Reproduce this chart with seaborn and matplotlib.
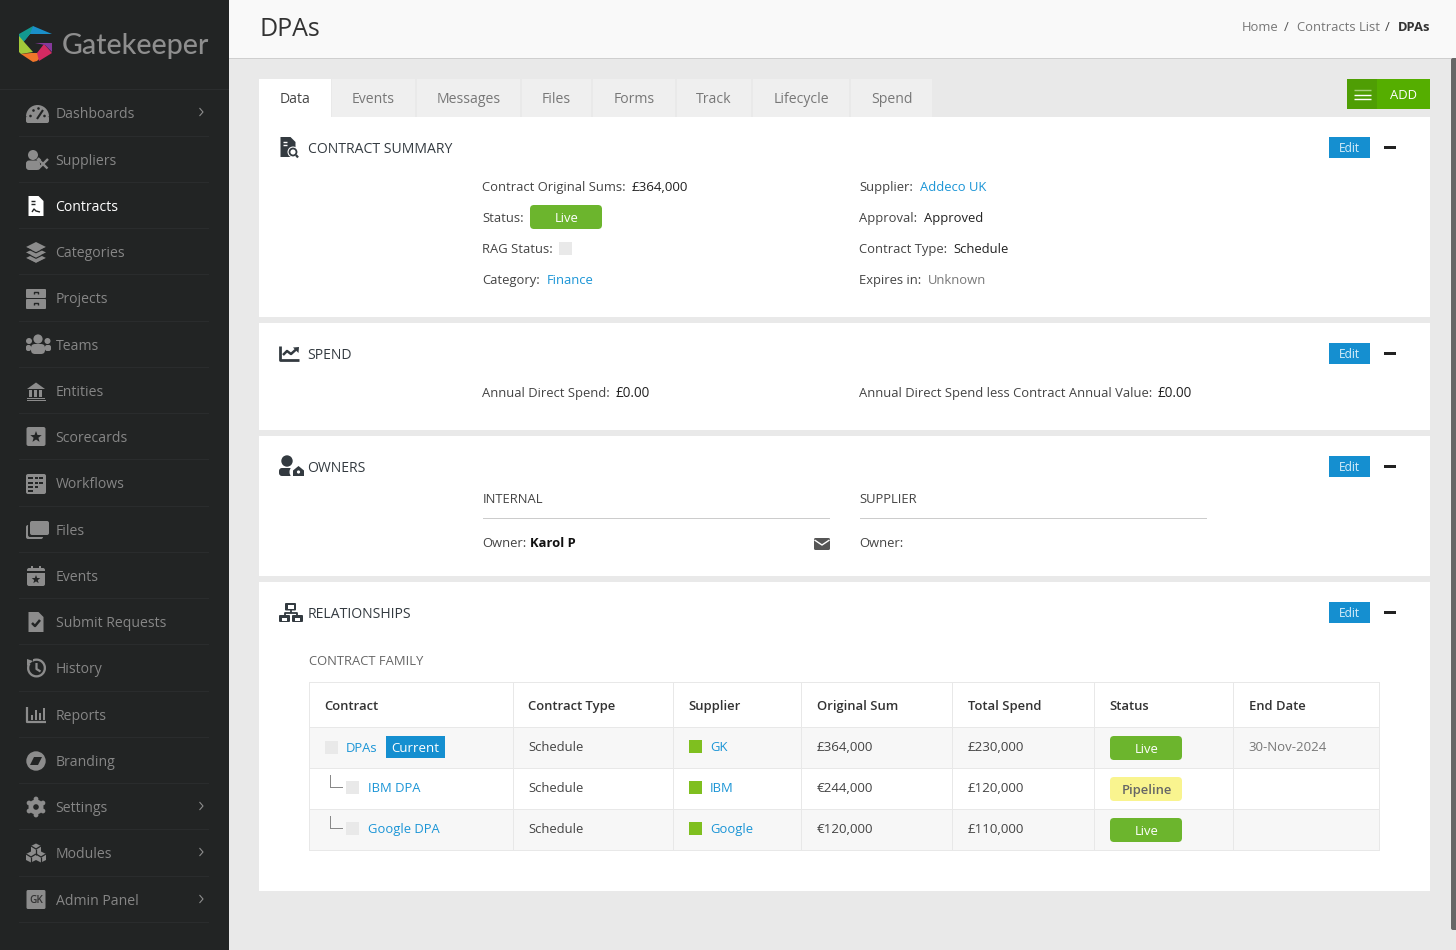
import numpy as np
import seaborn as sns
import matplotlib
matplotlib.use("Agg")
import matplotlib.pyplot as plt
from matplotlib.patches import Rectangle, Circle, Polygon, FancyBboxPatch, Wedge

W, H = 1456, 950

# menu and tabs
menu_items = ["Dashboards", "Suppliers", "Contracts", "Categories", "Projects", "Teams", "Entities",
              "Scorecards", "Workflows", "Files", "Events", "Submit Requests", "History", "Reports",
              "Branding", "Settings", "Modules", "Admin Panel"]
menu_arrows = ["Dashboards", "Settings", "Modules", "Admin Panel"]
tab_names = ["Data", "Events", "Messages", "Files", "Forms", "Track", "Lifecycle", "Spend"]
tab_edges = [(259, 331), (332, 415), (417, 520), (522, 591), (593, 675), (677, 751), (753, 849), (851, 932)]

# table
table_cols = ["Contract", "Contract Type", "Supplier", "Original Sum", "Total Spend", "Status", "End Date"]
contract_names = ["DPAs", "IBM DPA", "Google DPA"]
contract_types = ["Schedule", "Schedule", "Schedule"]
suppliers = ["GK", "IBM", "Google"]
original_sums = ["£364,000", "€244,000", "€120,000"]
total_spends = ["£230,000", "£120,000", "£110,000"]
statuses = ["Live", "Pipeline", "Live"]
end_dates = ["30-Nov-2024", "", ""]
row_stripes = [[1], [0], [1]]

DARK = "#222424"
GREY = "#8c8c8c"
BLUE = "#158fd0"
LINK = "#1b95d6"
TXT = "#444444"
INK = "#333a40"
GREEN = "#6cb52d"
PX = 72 / 100  # px to pt at dpi 100

sns.set_theme(style="white")
plt.rcParams["font.family"] = ["Open Sans", "DejaVu Sans"]

fig = plt.figure(figsize=(W / 100, H / 100), dpi=100, facecolor="#e9e9e9")


def pixel_axes(z):
    a = fig.add_axes([0, 0, 1, 1], zorder=z)
    a.set_xlim(0, W)
    a.set_ylim(H, 0)
    a.axis("off")
    return a


bg = pixel_axes(0)
ax = pixel_axes(2)


def box(x0, y0, x1, y1, c, a=None, z=1):
    (a or ax).add_patch(Rectangle((x0, y0), x1 - x0, y1 - y0, fc=c, ec="none", zorder=z))


def rbox(x0, y0, x1, y1, c, r=3, a=None, z=1):
    (a or ax).add_patch(FancyBboxPatch((x0 + r, y0 + r), x1 - x0 - 2 * r, y1 - y0 - 2 * r,
                                       boxstyle=f"round,pad={r},rounding_size={r}", fc=c, ec="none", zorder=z))


def txt(x, y, s, px=13, c=TXT, w="normal", ha="left", fam=None):
    # y is the baseline
    kw = {"family": fam} if fam else {}
    ax.text(x, y, s, fontsize=px * PX, color=c, fontweight=w, ha=ha, va="baseline", zorder=5, **kw)


def poly(pts, c, z=3):
    ax.add_patch(Polygon(pts, closed=True, fc=c, ec="none", zorder=z))


def circ(x, y, r, c, z=3):
    ax.add_patch(Circle((x, y), r, fc=c, ec="none", zorder=z))


def line(xs, ys, c, lw=1.0, z=3):
    ax.plot(xs, ys, color=c, lw=lw, zorder=z, solid_capstyle="butt")


# page frame
box(0, 0, 229, H, DARK, bg)
box(229, 0, W, 58, "#f9f9f9", bg)
box(229, 58, W, 59.2, "#cfcfcf", bg)
rbox(1451, 58, 1458, 930, "#666666", r=2, a=bg)

# logo
poly([(33, 26), (52, 34), (30, 34), (22, 44)], "#1a8fc9")
poly([(33, 26), (19, 34), (19, 47), (30, 34)], "#12998f")
poly([(19, 36), (19, 52), (21, 54), (33, 52), (25, 43)], "#a3c93a")
poly([(21, 54), (33, 62), (37, 61), (45, 53), (31, 53)], "#f0762a")
poly([(39, 61), (52, 53), (44, 44), (37, 53)], "#d42a62")
poly([(35, 43), (52, 43), (52, 52), (45, 45)], "#86399b")
txt(61.5, 54, "Gatekeeper", 28.6, "#8e8e8e", "medium", fam="Lato")
box(0, 89, 229, 90, "#2b2d2e", bg)

# sidebar rows
menu_y = [113, 160, 206, 252, 298, 345, 391, 437, 483, 530, 576, 622, 668, 715, 761, 807, 853, 900]
sep_y = [136, 182, 228, 274, 321, 367, 413, 459, 506, 552, 598, 644, 691, 737, 783, 829, 876, 922]
for name, y, sy in zip(menu_items, menu_y, sep_y):
    txt(55.6, y + 5, name, 14, "#ffffff" if name == "Contracts" else "#868686")
    box(19, sy, 209, sy + 1, "#2a2c2d", bg)
    if name in menu_arrows:
        line([199.5, 203, 199.5], [y - 5, y - 1, y + 3], GREY, 0.8)


def doc(x, y, c, w=15, h=20, fold=5):
    poly([(x - w / 2, y - h / 2), (x + w / 2 - fold, y - h / 2), (x + w / 2, y - h / 2 + fold),
          (x + w / 2, y + h / 2), (x - w / 2, y + h / 2)], c)


# sidebar icons
g = GREY
ax.add_patch(Wedge((37.5, 116.5), 11.5, 180, 360, fc=g, ec="none", zorder=3))
rbox(26, 116, 49, 123, g, r=2, z=3)
for dx, dy in [(-7, 116), (-4, 110.5), (1, 108.5), (7, 116)]:
    circ(37.5 + dx, dy, 1.3, DARK, z=4)
line([37, 43], [119, 110], DARK, 1.5, z=4)
circ(33, 155, 5, g)
rbox(26, 160.5, 40, 170, g, r=3)
line([38, 48], [169, 159], g, 1.7)
line([38, 47.5], [159, 168.5], g, 1.7)
line([37.5, 40], [158.5, 161], g, 2.5)
doc(36, 206, "#ffffff")
line([31, 35], [201, 201], DARK, 1, z=4)
line([31, 35], [204, 204], DARK, 1, z=4)
line([32, 34, 36, 40], [212, 209, 211, 212], DARK, 1, z=4)
for yy in (258, 252.5, 247):
    poly([(26, yy), (36, yy - 5), (46, yy), (36, yy + 5)], g)
    line([26, 36, 46], [yy + .8, yy + 5.8, yy + .8], DARK, 0.8, z=4)
rbox(26, 289, 46, 298, g, r=1)
rbox(26, 299, 46, 309, g, r=1)
line([34, 34, 38, 38], [294, 292, 292, 294], DARK, 1, z=4)
line([34, 34, 38, 38], [305, 303, 303, 305], DARK, 1, z=4)
circ(38, 339, 4.6, g)
circ(29, 341, 3, g)
circ(47.5, 341, 3, g)
rbox(31, 344, 45, 354, g, r=4)
rbox(26, 345, 31, 351, g, r=2)
rbox(45, 345, 51, 351, g, r=2)
poly([(27, 389), (36, 382.5), (45, 389)], g)
for xx in (29.5, 34.5, 39.5):
    box(xx - 1, 390, xx + 2, 397, g, z=3)
box(27, 397.5, 45, 399, g, z=3)
box(26.5, 399.8, 45.5, 400.8, g, z=3)


def star(x, y, r, c, z=4):
    ang = np.deg2rad(np.arange(10) * 36 - 90)
    rad = np.where(np.arange(10) % 2 == 0, r, r * 0.42)
    poly(list(zip(x + rad * np.cos(ang), y + rad * np.sin(ang))), c, z=z)


rbox(26.5, 427, 45.5, 446, g, r=2)
star(36, 437, 6, DARK)
rbox(26, 474, 46, 494, g, r=2)
for yy in (477, 481.5, 486, 490):
    box(28, yy, 33, yy + 2.3, DARK, z=4)
for yy, ncol in [(477, 2), (481.5, 2), (486, 1)]:
    for k in range(ncol):
        box(34.5 + k * 4.8, yy, 38 + k * 4.8, yy + 2.3, DARK, z=4)
rbox(26, 525, 43, 539, g, r=2)
rbox(28, 524, 50, 537, DARK, r=2, z=3)
rbox(30, 521, 49, 535, g, r=2, z=4)
rbox(27, 568, 45, 586, g, r=2)
box(31, 566, 33, 570, g, z=3)
box(39, 566, 41, 570, g, z=3)
box(27, 571, 45, 572.5, DARK, z=4)
star(36, 579.5, 4.5, DARK)
doc(36, 622, g, 15, 20, 5)
line([32, 35, 40], [623, 626, 620], DARK, 1.8, z=4)
ax.add_patch(Wedge((36.5, 668), 9.5, 0, 360, width=2.3, fc=g, ec="none", zorder=3))
box(26, 659, 33, 664, DARK, z=4)
poly([(27, 659), (33, 661), (27, 666)], g, z=4)
line([36.5, 36.5, 40.5], [663, 669, 671.5], g, 1.6)
line([27, 27, 46], [707, 722, 722], g, 1.6)
for xx, h in [(32, 5), (36, 10), (40, 7), (44, 12)]:
    box(xx - 1, 719.5 - h, xx + 1, 719.5, g, z=3)
circ(36, 761, 9.7, g)
poly([(30, 765), (34, 757), (42, 757), (38, 765)], DARK, z=4)
ang = np.deg2rad(np.arange(6) * 60 + 30)
for a_ in ang:
    circ(36 + 8 * np.cos(a_), 807 + 8 * np.sin(a_), 2.4, g)
circ(36, 807, 7.5, g)
circ(36, 807, 2.8, DARK, z=4)
for cx, cy in [(36, 849), (31, 857), (41, 857)]:
    poly([(cx - 5, cy - 3), (cx, cy - 5.5), (cx + 5, cy - 3), (cx + 5, cy + 3), (cx, cy + 5.5), (cx - 5, cy + 3)], g)
    line([cx - 5, cx, cx + 5], [cy - 3, cy, cy - 3], DARK, 0.9, z=4)
    line([cx, cx], [cy, cy + 5.5], DARK, 0.9, z=4)
rbox(26.5, 890, 45.5, 909, g, r=1.5)
txt(36, 903, "GK", 10, "#333333", "semibold", ha="center")

# header
txt(259, 36, "DPAs", 25, "#333333")
txt(1242, 31, "Home", 13, "#777777")
txt(1284, 31, "/", 13, "#555555")
txt(1297, 31, "Contracts List", 13, "#777777")
txt(1385, 31, "/", 13, "#444444")
txt(1398, 31, "DPAs", 13, "#333333", "bold")

# tabs
for name, (x0, x1) in zip(tab_names, tab_edges):
    active = name == "Data"
    box(x0, 79, x1, 117, "#ffffff" if active else "#efefef", bg)
    txt((x0 + x1) / 2, 103, name, 14, "#444444" if active else "#777777", ha="center")

# add button
box(1347, 79, 1377, 109, "#4f9e04", bg)
box(1377, 79, 1430, 109, "#55ae00", bg)
box(1376.5, 79, 1377.3, 109, "#4a9503", bg)
for yy, c in [(89.5, "#a6d27a"), (94.5, "#ffffff"), (99, "#ffffff")]:
    line([1354, 1371], [yy, yy], c, 1.0)
txt(1403, 99, "ADD", 13, "#ffffff", ha="center")

# panels
panels = [(117, 317, "CONTRACT SUMMARY"), (323, 430, "SPEND"), (436, 576, "OWNERS"), (582, 891, "RELATIONSHIPS")]
for y0, y1, title in panels:
    box(259, y0, 1430, y1, "#ffffff", bg)
    yc = y0 + 30.5
    txt(307.6, yc + 5.5, title, 14, INK)
    box(1329, yc - 10.5, 1370, yc + 10.5, BLUE, z=3)
    txt(1349.5, yc + 4.5, "Edit", 12, "#d8eefa", ha="center")
    box(1384, yc - 1.5, 1396, yc + 1.2, "#222222", z=3)

# section icons
doc(288, 147, INK, 15, 20, 5)
line([283, 287], [142, 142], "#ffffff", 1, z=4)
line([283, 287], [145, 145], "#ffffff", 1, z=4)
circ(293, 152, 5.5, "#ffffff", z=4)
ax.add_patch(Circle((293, 152), 3.5, fc="#ffffff", ec=INK, lw=1.3, zorder=4))
line([296, 298], [155, 157.5], INK, 1.6, z=4)
line([280, 280, 299], [346, 359.5, 359.5], INK, 2.0)
line([283, 287, 291, 296], [355, 351, 354, 349.5], INK, 1.8)
poly([(293, 347.5), (299, 347), (298.5, 353)], INK)
circ(287, 461, 5.7, INK)
rbox(279, 468, 295, 476, INK, r=3)
circ(296.5, 472, 7, "#ffffff", z=3)
poly([(293, 470.5), (298.5, 466), (304, 470.5), (304, 476), (293, 476)], INK, z=4)
circ(298.5, 472, 1.6, "#ffffff", z=5)
rbox(285, 603, 296, 610.5, INK, r=1)
box(287.5, 605, 293.5, 608.5, "#ffffff", z=4)
line([290.5, 290.5], [610, 613], INK, 1.3)
line([284.5, 284.5, 296.5, 296.5], [615, 612.5, 612.5, 615], INK, 1.3)
for xx in (279, 292):
    rbox(xx, 615, xx + 11, 622, INK, r=1)
    box(xx + 3, 617.5, xx + 8, 620.5, "#ffffff", z=4)

# contract summary fields
for y, s in zip([191, 222, 253, 284], ["Contract Original Sums:", "Status:", "RAG Status:", "Category:"]):
    txt(482.5, y, s)
for y, s in zip([191, 222, 253, 284], ["Supplier:", "Approval:", "Contract Type:", "Expires in:"]):
    txt(859.2, y, s)
txt(632, 191, "£364,000", 13.4, "#222222")
txt(546.5, 284, "Finance", 13, LINK)
txt(919.5, 191, "Addeco UK", 13, LINK)
txt(923.5, 222, "Approved", 13, "#222222")
txt(953.5, 253, "Schedule", 13, "#222222")
txt(928, 284, "Unknown", 13, "#777777")
rbox(530, 205, 602, 229, GREEN, r=4)
txt(566.7, 222, "Live", 13, "#ffffff", "medium", ha="center")
box(559, 242, 572, 255, "#e9e9e9")

# spend
txt(482.5, 397, "Annual Direct Spend:")
txt(616, 397, "£0.00", 13.5, "#222222")
txt(859.2, 397, "Annual Direct Spend less Contract Annual Value:")
txt(1158, 397, "£0.00", 13.5, "#222222")

# owners
txt(482.5, 503, "INTERNAL")
txt(859.2, 503, "SUPPLIER")
box(482.5, 518, 830, 519, "#cccccc")
box(859.5, 518, 1207, 519, "#cccccc")
txt(482.5, 547, "Owner:")
txt(530, 547, "Karol P", 13, "#111111", "bold")
txt(859.2, 547, "Owner:")
rbox(814, 538, 830, 550, "#555555", r=1.5)
line([814.5, 822, 829.5], [540, 545, 540], "#ffffff", 1, z=4)

# relationships table
txt(309, 665, "CONTRACT FAMILY", 13, "#666666")

col_edges = [309, 513, 673, 801, 952, 1094, 1233, 1379]
row_edges = [682, 727, 768, 809, 850]
stripe_ax = fig.add_axes([col_edges[0] / W, 1 - row_edges[-1] / H,
                          (col_edges[-1] - col_edges[0]) / W, (row_edges[-1] - row_edges[1]) / H], zorder=1)
sns.heatmap(row_stripes, ax=stripe_ax, cmap=["#ffffff", "#f7f7f7"], cbar=False, xticklabels=False, yticklabels=False)
stripe_ax.axis("off")

for xx in col_edges:
    box(xx, row_edges[0], xx + 1, row_edges[-1] + 1, "#e8e8e8", z=2)
for yy in row_edges:
    box(col_edges[0], yy, col_edges[-1] + 1, yy + 1, "#e8e8e8", z=2)

col_x = [324.4, 528.4, 688.4, 817, 968, 1109.4, 1249]
for x, s in zip(col_x, table_cols):
    txt(x, 710, s, 13, "#333333", "semibold")

row_y = [751, 792, 833]
for i, y in enumerate(row_y):
    name_x = 346.2 if i == 0 else 367.6
    sq_x = 325 if i == 0 else 346
    box(sq_x, y - 10 if i == 0 else y - 11, sq_x + 13, y + 3 if i == 0 else y + 2, "#e9e9e9", z=3)
    txt(name_x, y + 1 if i == 0 else y, contract_names[i], 13, LINK)
    if i > 0:
        box(330, y - 17, 331, y - 5, "#888888", z=3)
        box(330, y - 5, 343, y - 4, "#888888", z=3)
    txt(528.4, y, contract_types[i], 13, TXT)
    box(689, y - 11, 702, y + 2, "#7fbf1f", z=3)
    txt(709.8, y, suppliers[i], 13, LINK)
    txt(817, y, original_sums[i], 13.4, TXT)
    txt(968, y, total_spends[i], 13.4, TXT)
    live = statuses[i] == "Live"
    rbox(1110, y - 15, 1182, y + 9, GREEN if live else "#f9f48f", r=4)
    txt(1146.7, y + 2, statuses[i], 13, "#ffffff" if live else "#666666", "medium" if live else "semibold", ha="center")
    if end_dates[i]:
        txt(1248.6, y, end_dates[i], 13.3, "#777777")

box(386, 736, 445, 758, BLUE, z=3)
txt(415, 752, "Current", 13.3, "#ffffff", "medium", ha="center")

fig.savefig("out.png", dpi=100, facecolor=fig.get_facecolor())
